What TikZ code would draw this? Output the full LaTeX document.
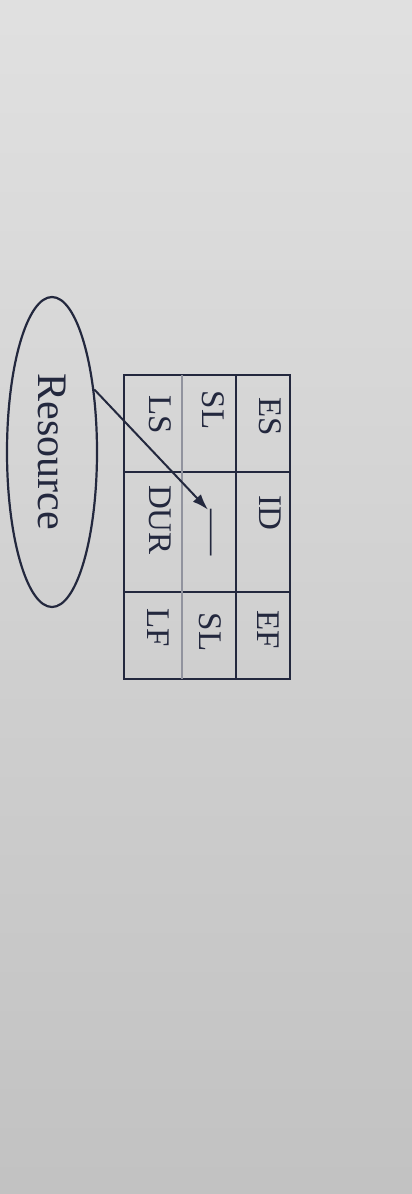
\documentclass[tikz,border=0pt]{standalone}
\usepackage{fontspec}
\setmainfont{Liberation Serif}
\usetikzlibrary{arrows.meta,shapes.geometric,positioning}
\definecolor{ink}{RGB}{35,40,62}

\begin{document}
\begin{tikzpicture}[
  x=1pt, y=-1pt,
  entry/.style={rotate=-90, inner sep=0pt, text=ink, font=\fontsize{33}{36}\selectfont},
  resnode/.style={ellipse, rotate=-90, draw=ink, line width=2.2pt, minimum width=310pt, minimum height=90pt, inner sep=0pt, text=ink, font=\fontsize{42}{46}\selectfont},
  frame/.style={draw=ink, line width=2.6pt},
  faint/.style={draw=ink!50, line width=1.4pt},
  arrow/.style={-{Latex[length=16pt,width=11pt]}, draw=ink, line width=2pt}
]

% Background
\shade[top color=black!12, bottom color=black!24] (0,0) rectangle (412,1194);
\useasboundingbox (0,0) rectangle (412,1194);

% Table
\draw[frame] (124,375) rectangle (290,679);
\draw[frame] (236,375) -- (236,679);
\draw[frame] (124,472) -- (290,472);
\draw[frame] (124,592) -- (290,592);
\draw[faint] (182,375) -- (182,679);

% Entries
\node[entry] (es) at (270,417) {ES};
\node[entry] (id) at (270,513) {ID};
\node[entry] (ef) at (268,630) {EF};
\node[entry] (sltop) at (213,410) {SL};
\node[entry] (dash) at (208,533) {\scalebox{1.4}[1]{—}};
\node[entry] (slbot) at (210,632) {SL};
\node[entry] (ls) at (160,415) {LS};
\node[entry] (dur) at (160,520) {DUR};
\node[entry] (lf) at (158,628) {LF};

% Resource
\node[resnode] (res) at (52,452) {Resource};
\draw[arrow] (res.146) -- (dash.west);

\end{tikzpicture}
\end{document}
